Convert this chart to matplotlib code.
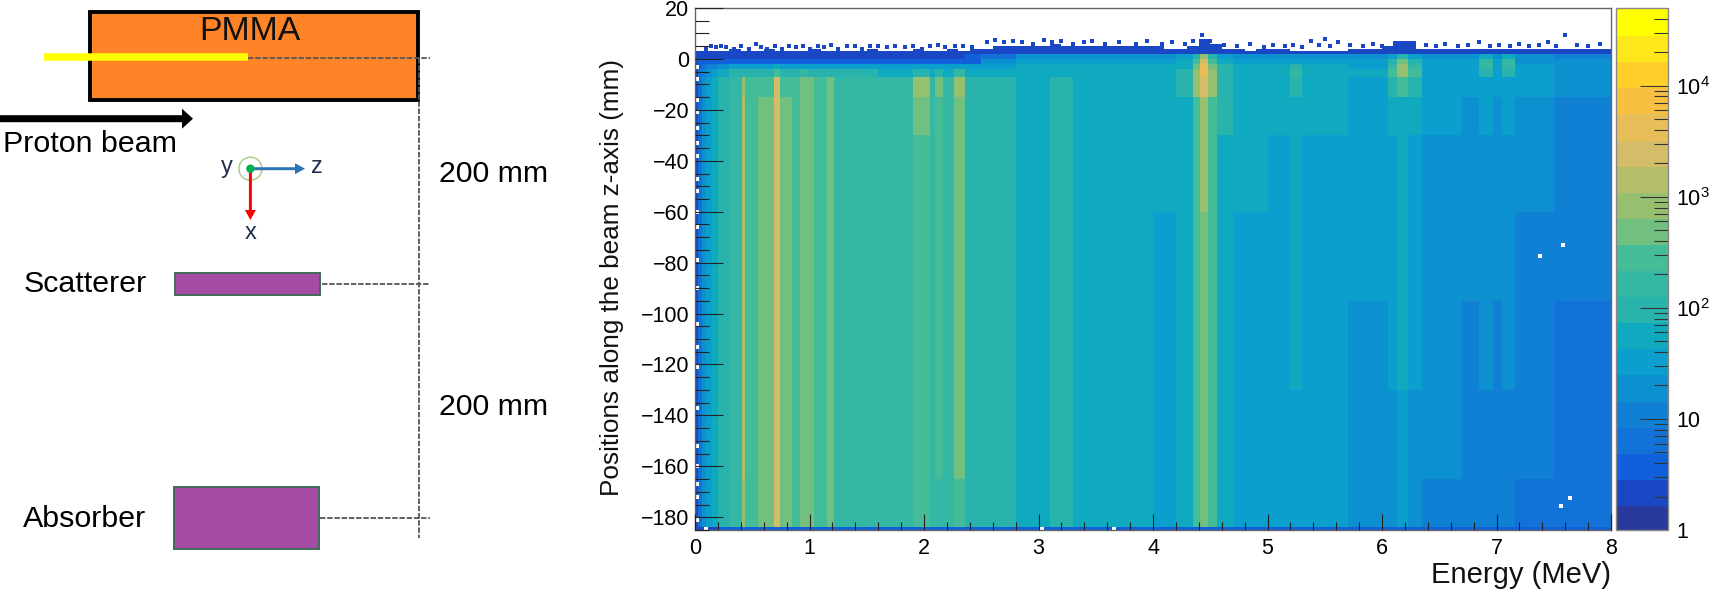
import numpy as np
import matplotlib
matplotlib.use('Agg')
import matplotlib.pyplot as plt
from matplotlib.colors import ListedColormap, LogNorm
from matplotlib.patches import Rectangle, Circle, FancyArrow
from matplotlib.ticker import FixedLocator, NullFormatter

plt.rcParams['font.family'] = ['Liberation Sans', 'DejaVu Sans']
plt.rcParams['mathtext.fontset'] = 'custom'
plt.rcParams['mathtext.rm'] = 'Liberation Sans'
plt.rcParams['mathtext.default'] = 'regular'

# depth rows, mm
depth_edges = [-185, -184, -165, -130, -95, -60, -30, -15, -7, -4, -2, 0, 2]

energy_edges = [0, .03, .06, .1, .15, .2, .3, .41, .44, .55, .69, .745, .85, .92, .98, 1.04,
                1.15, 1.21, 1.35, 1.6, 1.9, 2.05, 2.1, 2.17, 2.26, 2.36, 2.5, 2.8, 3.1, 3.3,
                3.7, 4.0, 4.2, 4.35, 4.41, 4.48, 4.56, 4.7, 5.0, 5.2, 5.3, 5.7, 6.05, 6.13,
                6.23, 6.35, 6.7, 6.85, 6.97, 7.05, 7.16, 7.5, 8]
counts_by_column = [
    [2, 2, 2, 2, 2, 2, 2, 2, 2, 2, 2, 2],
    [2, 8, 8, 8, 8, 8, 8, 8, 6, 4, 3, 2],
    [2, 20, 20, 20, 20, 20, 20, 20, 12, 6, 3, 2],
    [2, 34, 34, 34, 34, 34, 34, 34, 20, 10, 3, 2],
    [2, 58, 58, 58, 58, 58, 58, 58, 30, 14, 3, 2],
    [3, 120, 120, 120, 120, 120, 120, 110, 50, 22, 3, 2],
    [3, 215, 215, 215, 215, 215, 215, 190, 80, 30, 3, 2],
    [3, 1000, 1300, 1400, 1400, 1400, 1400, 1100, 110, 35, 3, 2],
    [3, 290, 290, 290, 290, 290, 290, 250, 110, 38, 3, 2],
    [3, 400, 400, 400, 400, 400, 400, 350, 120, 40, 3, 2],
    [4, 2400, 2500, 2500, 2500, 2500, 2700, 2600, 250, 45, 4, 2],
    [3, 400, 400, 400, 400, 400, 400, 350, 120, 40, 3, 2],
    [3, 350, 350, 350, 350, 350, 350, 320, 110, 40, 3, 2],
    [3, 480, 500, 520, 520, 520, 560, 560, 160, 40, 3, 2],
    [3, 420, 450, 480, 480, 450, 450, 420, 130, 40, 3, 2],
    [3, 290, 290, 290, 290, 290, 290, 260, 100, 38, 3, 2],
    [3, 400, 420, 420, 420, 400, 420, 400, 110, 38, 3, 2],
    [3, 220, 220, 220, 220, 220, 220, 190, 90, 36, 3, 2],
    [3, 170, 170, 170, 170, 170, 170, 160, 80, 36, 3, 2],
    [3, 150, 150, 150, 150, 150, 150, 150, 70, 34, 3, 2],
    [3, 250, 280, 290, 290, 320, 420, 720, 130, 36, 3, 2],
    [3, 170, 170, 170, 170, 170, 180, 190, 70, 34, 3, 2],
    [3, 220, 250, 270, 270, 280, 320, 480, 100, 34, 3, 2],
    [3, 150, 150, 150, 150, 150, 160, 160, 70, 34, 3, 2],
    [3, 320, 400, 420, 430, 440, 560, 800, 140, 36, 3, 2],
    [3, 105, 105, 105, 105, 105, 110, 115, 60, 34, 5, 4],
    [3, 80, 80, 82, 82, 82, 85, 90, 55, 40, 20, 8],
    [3, 65, 65, 68, 68, 68, 70, 75, 65, 55, 35, 22],
    [3, 78, 80, 85, 85, 85, 90, 100, 70, 55, 35, 22],
    [3, 55, 56, 58, 58, 58, 60, 70, 62, 55, 36, 22],
    [3, 48, 50, 52, 52, 54, 58, 65, 60, 55, 36, 24],
    [3, 38, 40, 42, 42, 46, 50, 56, 56, 52, 36, 24],
    [3, 46, 48, 52, 54, 58, 68, 85, 90, 70, 45, 28],
    [3, 240, 260, 290, 300, 320, 350, 700, 900, 500, 250, 100],
    [3, 500, 560, 620, 640, 680, 900, 2400, 4300, 4300, 3000, 1000],
    [3, 240, 260, 290, 300, 320, 350, 700, 900, 500, 250, 100],
    [3, 52, 56, 62, 66, 70, 85, 110, 120, 85, 50, 30],
    [3, 34, 36, 40, 42, 46, 52, 62, 60, 52, 34, 24],
    [3, 30, 32, 36, 38, 42, 46, 54, 56, 48, 30, 22],
    [3, 36, 40, 46, 50, 58, 72, 120, 170, 100, 40, 24],
    [3, 30, 32, 36, 38, 42, 48, 56, 56, 46, 30, 22],
    [3, 18, 20, 23, 26, 30, 36, 44, 46, 42, 28, 20],
    [3, 22, 25, 30, 33, 38, 50, 100, 230, 200, 80, 28],
    [3, 36, 42, 48, 52, 58, 75, 240, 800, 800, 500, 120],
    [3, 22, 25, 30, 33, 38, 50, 100, 230, 200, 80, 28],
    [3, 13, 15, 17, 19, 22, 27, 36, 40, 36, 26, 18],
    [3, 11, 12, 14, 16, 19, 23, 30, 36, 36, 26, 18],
    [3, 11, 13, 15, 17, 20, 26, 40, 90, 180, 200, 70],
    [3, 9, 11, 13, 15, 18, 22, 30, 36, 36, 26, 18],
    [3, 11, 13, 15, 17, 20, 26, 40, 90, 170, 180, 65],
    [3, 8, 9, 11, 13, 15, 19, 26, 32, 30, 24, 16],
    [3, 6, 7, 8, 9, 11, 14, 20, 24, 24, 20, 14],
]

# solid upper limit of the filled region, mm, one value per 0.1 MeV bin
top_edge = [3, 3, 3, 4, 3, 3, 4, 3, 3, 3, 4, 3, 3, 3, 3, 4, 3, 3, 3, 4, 3, 3, 4, 3, 4,
            4, 5, 5, 5, 5, 5, 6, 5, 5, 5, 5, 5, 5, 5, 5,
            5, 4, 4, 5, 8, 6,
            4, 4, 3, 4, 4, 4, 3, 3, 3, 3, 3, 4, 4, 4,
            5, 7, 7, 4,
            4, 4, 4, 4, 4, 4, 4, 4, 4, 4, 4, 4, 4, 4, 4, 4]
top_bin = 0.1

# single filled bins above that limit
speck_energy = [.1, .14, .18, .23, .27, .34, .4, .47, .53, .58, .63, .7, .76, .82, .88, .94, 1.0,
                1.07, 1.13, 1.19, 1.25, 1.33, 1.4, 1.46, 1.53, 1.6, 1.68, 1.75, 1.83, 1.9, 1.98,
                2.05, 2.12, 2.18, 2.27, 2.34, 2.42, 2.55, 2.62, 2.7, 2.78, 2.86, 2.95, 3.05, 3.12,
                3.2, 3.3, 3.4, 3.47, 3.58, 3.7, 3.85, 3.95, 4.08, 4.17, 4.28, 4.35, 4.43, 4.5,
                4.62, 4.73, 4.85, 4.97, 5.05, 5.15, 5.22, 5.3, 5.38, 5.45, 5.5, 5.55, 5.62, 5.72,
                5.83, 5.92, 6.0, 6.38, 6.47, 6.55, 6.66, 6.75, 6.85, 6.94, 7.02, 7.12, 7.2, 7.28,
                7.37, 7.45, 7.52, 7.6, 7.7, 7.8, 7.9]
speck_depth = [4, 5, 4.5, 5, 4.5, 4, 5, 4, 6, 4.5, 4, 5, 4, 5, 4.5, 5, 4, 5, 4.5, 5.5, 4, 5, 5,
               4, 5, 5, 4.5, 5, 4.5, 5, 4, 5, 5.5, 4.5, 5, 5, 4.5, 6.5, 7.5, 6.5, 7, 6.5, 6, 7.5,
               6.5, 7, 6, 6.5, 7, 6, 6.5, 6, 7, 6, 6.5, 6, 7, 9.5, 7, 5.5, 5, 6, 4.5, 5.5, 5, 5.5,
               4.5, 7, 5.5, 8, 5, 6.5, 5.5, 5, 6, 5, 5.5, 5, 6, 5, 5.5, 6.5, 5, 5.5, 5, 6, 5, 5.5,
               6.5, 5, 9.5, 5.5, 5, 6]

# empty bins
empty_energy = [.02, .02, .02, .02, .02, .02, .02, .02, .02, .02, .02, .02, .02, .02, .02, .02, .02,
                .02, .02, .02, .02, .02, .1, 3.03, 3.66, 7.38, 7.58, 7.64, 7.56]
empty_depth = [-3, -8, -16, -21, -27, -33, -38, -47, -52, -60, -66, -79, -90, -104, -113, -121, -137,
               -152, -160, -167, -172, -181, -184.5, -184.5, -184.5, -77.4, -73, -172.6, -175.5]

# palette, low -> high
band_colors = ['#2A3A9C', '#1A48C4', '#1060DC', '#1272D8', '#1080D4', '#0C90D0', '#0A9FCC',
               '#0FAAC0', '#28B4AC', '#34B8A4', '#45BC98', '#72C080', '#96C070', '#B4BE68',
               '#D4BC68', '#E8BE58', '#F8C040', '#FFCF2A', '#FFE81A', '#FFFF00']
zmin = 1
zmax = 5e4

W, H = 1711, 592
fig = plt.figure(figsize=(W / 100, H / 100), dpi=100)


def box(x0, x1, y_top, y_bot):
    return [x0 / W, 1 - y_bot / H, (x1 - x0) / W, (y_bot - y_top) / H]


# left part: geometry sketch in pixel coordinates
sk = fig.add_axes([0, 0, 1, 1])
sk.set_xlim(0, W)
sk.set_ylim(H, 0)
sk.axis('off')

sk.add_patch(Rectangle((90, 12), 328, 88, fc='#FF8427', ec='black', lw=2.8))
sk.add_patch(Rectangle((175.4, 272.7), 144.6, 22, fc='#A54CA5', ec='#3F6B5C', lw=1.4))
sk.add_patch(Rectangle((174, 487.3), 144.6, 61.4, fc='#A54CA5', ec='#3F6B5C', lw=1.4))
for ln in [([248, 430], [57.5, 57.5]), ([322, 430], [284.3, 284.3]), ([320, 430], [518.3, 518.3]),
           ([418.6, 418.6], [57.5, 538.3])]:
    sk.plot(ln[0], ln[1], color='#555555', lw=1.3, ls=(0, (3, 1)))
sk.plot([43.6, 248], [57.3, 57.3], color='#FFFF00', lw=5.4, solid_capstyle='butt')

sk.add_patch(FancyArrow(0, 118.7, 193, 0, width=7, head_width=20, head_length=11,
                        length_includes_head=True, color='black', lw=0))
sk.add_patch(Circle((250.4, 168.7), 11.5, fc='none', ec='#A8D08D', lw=1.1))
sk.add_patch(FancyArrow(250.4, 168.7, 54.6, 0, width=3, head_width=11, head_length=10,
                        length_includes_head=True, color='#2E75B6', lw=0))
sk.add_patch(FancyArrow(250.4, 168.7, 0, 51.3, width=3, head_width=11, head_length=10,
                        length_includes_head=True, color='#FF0000', lw=0))
sk.add_patch(Circle((250.4, 168.7), 4.2, fc='#00B050', ec='none', zorder=5))

sk.text(250, 32, 'PMMA', fontsize=24.4, ha='center', va='center', color='#111111')
sk.text(3, 151.7, 'Proton beam', fontsize=21.9, ha='left', va='baseline', color='black')
sk.text(438.6, 182, '200 mm', fontsize=21.8, ha='left', va='baseline', color='black')
sk.text(438.6, 415, '200 mm', fontsize=21.8, ha='left', va='baseline', color='black')
sk.text(24, 292, 'Scatterer', fontsize=21.9, ha='left', va='baseline', color='black')
sk.text(23, 527.3, 'Absorber', fontsize=21.9, ha='left', va='baseline', color='black')
sk.text(227, 167, 'y', fontsize=17, ha='center', va='center', color='#1F2F4F')
sk.text(317, 167, 'z', fontsize=17, ha='center', va='center', color='#1F2F4F')
sk.text(250.4, 233, 'x', fontsize=17, ha='center', va='center', color='#1F2F4F')

# right part: 2D histogram
ax = fig.add_axes(box(695, 1611, 8, 530))
cmap = ListedColormap(band_colors)
norm = LogNorm(vmin=zmin, vmax=zmax)
counts = np.array(counts_by_column).T
mesh = ax.pcolormesh(energy_edges, depth_edges, counts, cmap=cmap, norm=norm, zorder=1)
top_x = np.arange(len(top_edge)) * top_bin
ax.bar(top_x, np.array(top_edge) - 2, bottom=2, width=top_bin, align='edge',
       color=band_colors[1], zorder=1.5)
ax.scatter(speck_energy, speck_depth, marker='s', s=9, color=band_colors[1], linewidths=0, zorder=1.5)
ax.scatter(empty_energy, empty_depth, marker='s', s=5, color='white', linewidths=0, zorder=1.6)

ax.set_xlim(0, 8)
ax.set_ylim(-185, 20)
ax.set_xticks(range(9))
ax.xaxis.set_minor_locator(FixedLocator(np.arange(0, 8.01, 0.2)))
ax.set_yticks(range(-180, 21, 20))
ax.yaxis.set_minor_locator(FixedLocator(range(-185, 21, 5)))
ax.tick_params(axis='x', which='major', direction='in', length=11.5, width=0.8, pad=6,
               labelsize=15.5, color='#222222')
ax.tick_params(axis='x', which='minor', direction='in', length=5.8, width=0.8, color='#222222')
ax.tick_params(axis='y', which='major', direction='in', length=20, width=0.8, pad=4,
               labelsize=15.5, color='#222222')
ax.tick_params(axis='y', which='minor', direction='in', length=10, width=0.8, color='#222222')
for s in ax.spines.values():
    s.set_color('#666666')
    s.set_linewidth(1.0)
ax.set_axisbelow(False)

fig.text(1611 / W, 1 - 575 / H, 'Energy (MeV)', fontsize=21, ha='right', va='center', color='#111111')
fig.text(612 / W, 1 - 277 / H, 'Positions along the beam z-axis (mm)', fontsize=18.8, rotation=90,
         ha='center', va='center', color='#111111')

# colour bar
cax = fig.add_axes(box(1616, 1668, 8, 530))
cb = fig.colorbar(mesh, cax=cax)
cb.outline.set_edgecolor('#888888')
cb.outline.set_linewidth(1.0)
cb.solids.set_edgecolor('face')
cax.set_yscale('log')
cax.set_ylim(zmin, zmax)
cax.yaxis.set_ticks_position('right')
cax.yaxis.set_major_locator(FixedLocator([1, 10, 100, 1000, 10000]))
cax.yaxis.set_ticklabels(['1', '10', '$10^{2}$', '$10^{3}$', '$10^{4}$'])
minor = [m * 10 ** d for d in range(5) for m in range(2, 10) if m * 10 ** d < zmax]
cax.yaxis.set_minor_locator(FixedLocator(minor))
cax.yaxis.set_minor_formatter(NullFormatter())
cax.tick_params(axis='y', which='major', direction='in', length=20, width=0.8, pad=6,
                labelsize=15.5, color='#333333')
cax.tick_params(axis='y', which='minor', direction='in', length=10, width=0.8, color='#333333')

fig.savefig('out.png', dpi=100)
